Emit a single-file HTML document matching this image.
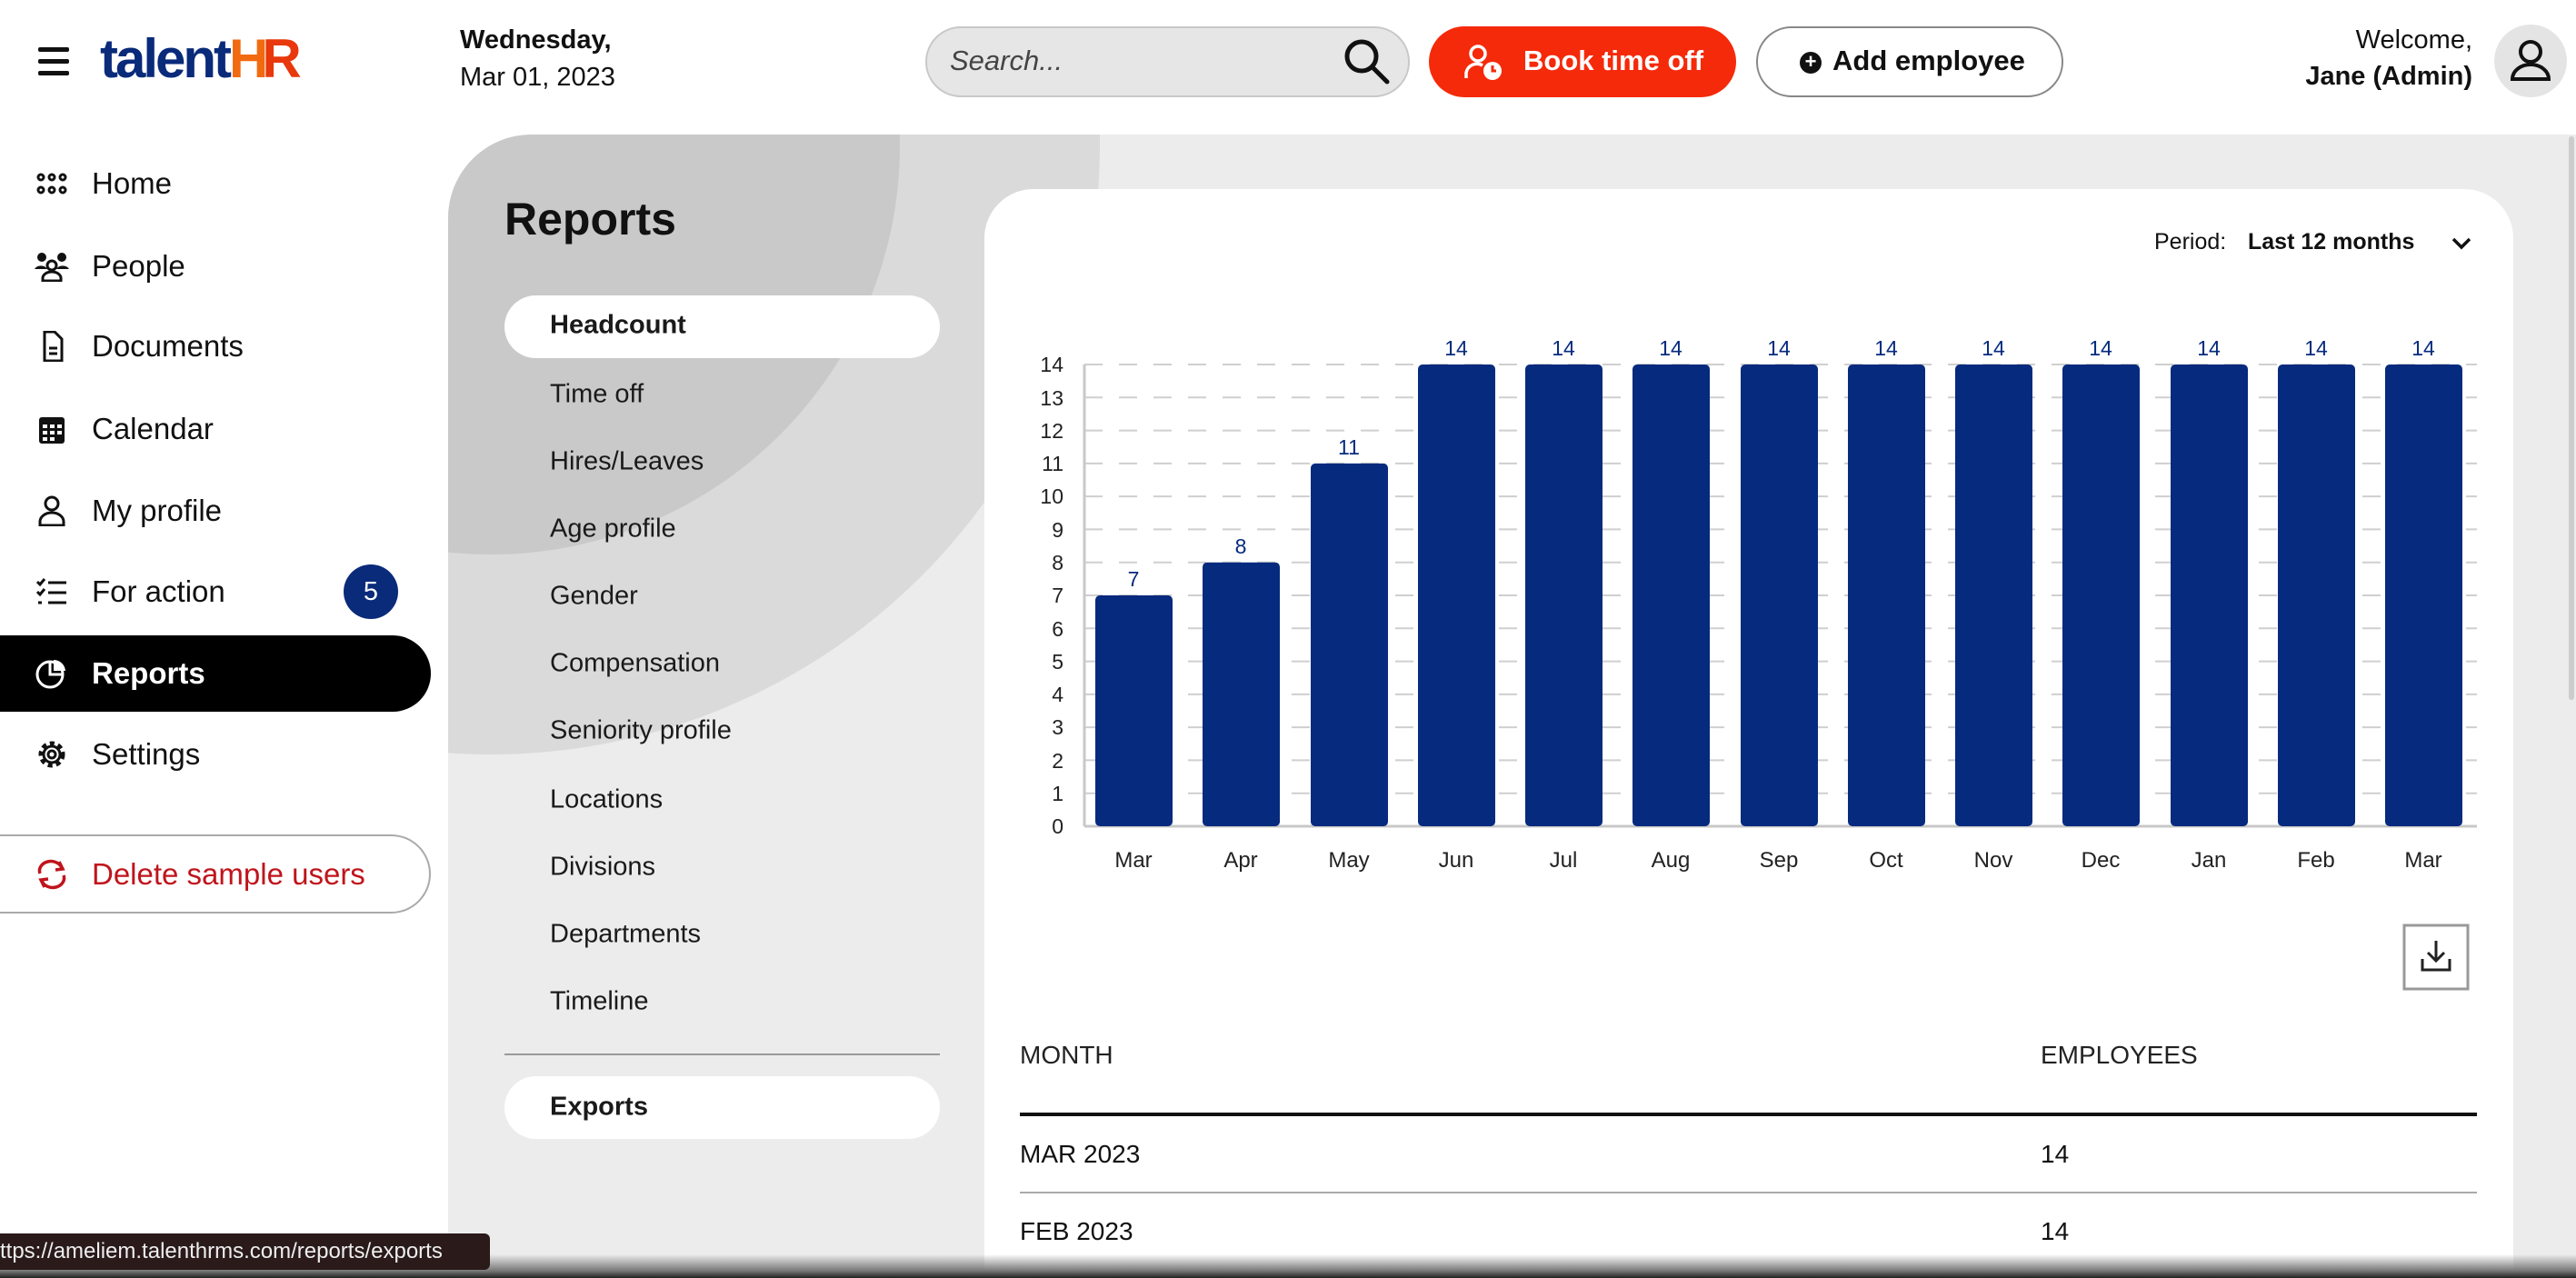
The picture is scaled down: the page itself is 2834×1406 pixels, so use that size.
<!DOCTYPE html>
<html style="overflow:hidden;height:1406px"><head><meta charset="utf-8"><style>
*{box-sizing:border-box;margin:0;padding:0}
body{width:2834px;height:1406px;overflow:hidden;background:#fff;font-family:"Liberation Sans",sans-serif;position:relative;color:#111}
.a{position:absolute}
.nav{position:absolute;left:101px;font-size:33px;color:#111;transform:translateY(-50%)}
.ic{position:absolute;left:38px;width:38px;height:34px;transform:translateY(-50%)}
.mi{position:absolute;left:605px;font-size:29px;transform:translateY(-50%);color:#1a1a1a}
</style></head><body>
<div class="a" style="left:0;top:0;width:2834px;height:1406px;overflow:hidden">
<!-- top bar -->
<div class="a" style="left:42px;top:52px;width:34px;height:5px;background:#111;border-radius:2px"></div>
<div class="a" style="left:42px;top:65px;width:34px;height:5px;background:#111;border-radius:2px"></div>
<div class="a" style="left:42px;top:78px;width:34px;height:5px;background:#111;border-radius:2px"></div>
<div class="a" style="left:110px;top:30px;font-size:60px;font-weight:bold;letter-spacing:-3px;color:#0a2a7a">talent<span style="color:#f26a10">H</span><span style="color:#e8380c;margin-left:-4px">R</span></div>
<div class="a" style="left:506px;top:28px;font-size:29px;font-weight:bold">Wednesday,</div>
<div class="a" style="left:506px;top:69px;font-size:29px">Mar 01, 2023</div>
<div class="a" style="left:1018px;top:29px;width:533px;height:78px;border-radius:39px;background:#e6e6e6;border:2px solid #c8c8c8"></div>
<div class="a" style="left:1045px;top:49px;font-size:31px;font-style:italic;color:#444">Search...</div>
<svg class="a" style="left:1476px;top:40px" width="56" height="56" viewBox="0 0 56 56"><circle cx="22" cy="22" r="16" fill="none" stroke="#111" stroke-width="5"/><line x1="34" y1="34" x2="50" y2="50" stroke="#111" stroke-width="5" stroke-linecap="round"/></svg>
<div class="a" style="left:1572px;top:29px;width:338px;height:78px;border-radius:39px;background:#f52a0a"></div>
<svg class="a" style="left:1610px;top:48px" width="46" height="42"><circle cx="16" cy="11" r="8" fill="none" stroke="#fff" stroke-width="3.5"/><path d="M3 38 v-6 a12 12 0 0 1 18 -8" fill="none" stroke="#fff" stroke-width="3.5"/><circle cx="32" cy="30" r="10" fill="#fff"/><path d="M32 24 v6 h4" stroke="#f52a0a" stroke-width="3" fill="none"/></svg>
<div class="a" style="left:1676px;top:49px;font-size:31px;font-weight:bold;color:#fff">Book time off</div>
<div class="a" style="left:1932px;top:29px;width:338px;height:78px;border-radius:39px;background:#fff;border:2px solid #888"></div>
<div class="a" style="left:1980px;top:57px;width:24px;height:24px;border-radius:50%;background:#111;color:#fff;font-size:22px;line-height:22px;text-align:center;font-weight:bold">+</div>
<div class="a" style="left:2016px;top:49px;font-size:31px;font-weight:bold">Add employee</div>
<div class="a" style="right:114px;top:28px;font-size:29px;text-align:right">Welcome,</div>
<div class="a" style="right:114px;top:68px;font-size:29px;font-weight:bold;text-align:right">Jane (Admin)</div>
<div class="a" style="left:2744px;top:27px;width:80px;height:80px;border-radius:50%;background:#e4e4e4"></div>
<svg class="a" style="left:2754px;top:37px" width="60" height="60"><circle cx="30" cy="20" r="11" fill="none" stroke="#111" stroke-width="4"/><path d="M10 50 a20 16 0 0 1 40 0 z" fill="none" stroke="#111" stroke-width="4"/></svg>

<!-- sidebar -->
<svg class="ic" style="top:202px" viewBox="0 0 38 34"><g fill="none" stroke="#111" stroke-width="3"><circle cx="7" cy="10" r="3"/><circle cx="19" cy="10" r="3"/><circle cx="31" cy="10" r="3"/><circle cx="7" cy="24" r="3"/><circle cx="19" cy="24" r="3"/><circle cx="31" cy="24" r="3"/></g></svg>
<div class="nav" style="top:202px">Home</div>
<svg class="ic" style="top:293px" viewBox="0 0 38 34"><g fill="#111"><circle cx="8" cy="7" r="5"/><circle cx="30" cy="7" r="5"/><path d="M0 20 a8 7 0 0 1 14 0z M24 20 a8 7 0 0 1 14 0z"/></g><circle cx="19" cy="16" r="5" fill="none" stroke="#111" stroke-width="3"/><path d="M9 33 v-3 a10 7 0 0 1 20 0 v3z" fill="none" stroke="#111" stroke-width="3"/></svg>
<div class="nav" style="top:293px">People</div>
<svg class="ic" style="top:381px" viewBox="0 0 38 34"><path d="M11 1 h11 l8 8 v24 h-19z" fill="none" stroke="#111" stroke-width="3"/><path d="M16 19 h9 M16 25 h9" stroke="#111" stroke-width="3"/></svg>
<div class="nav" style="top:381px">Documents</div>
<svg class="ic" style="top:472px" viewBox="0 0 38 34"><rect x="5" y="4" width="28" height="29" rx="3" fill="#111"/><g fill="#fff"><rect x="9" y="12" width="5" height="4"/><rect x="17" y="12" width="5" height="4"/><rect x="25" y="12" width="5" height="4"/><rect x="9" y="19" width="5" height="4"/><rect x="17" y="19" width="5" height="4"/><rect x="25" y="19" width="5" height="4"/><rect x="9" y="26" width="5" height="4"/><rect x="17" y="26" width="5" height="4"/></g></svg>
<div class="nav" style="top:472px">Calendar</div>
<svg class="ic" style="top:562px" viewBox="0 0 38 34"><circle cx="19" cy="9" r="7" fill="none" stroke="#111" stroke-width="3"/><path d="M6 33 v-4 a13 10 0 0 1 26 0 v4z" fill="none" stroke="#111" stroke-width="3"/></svg>
<div class="nav" style="top:562px">My profile</div>
<svg class="ic" style="top:651px" viewBox="0 0 38 34"><path d="M3 6 l3 3 l5 -6 M3 17 l3 3 l5 -6 M15 7 h20 M15 18 h20 M4 29 h4 M15 29 h20" fill="none" stroke="#111" stroke-width="3"/></svg>
<div class="nav" style="top:651px">For action</div>
<div class="a" style="left:378px;top:621px;width:60px;height:60px;border-radius:50%;background:#0a2a7a;color:#fff;font-size:29px;line-height:60px;text-align:center">5</div>
<div class="a" style="left:0;top:699px;width:474px;height:84px;border-radius:0 42px 42px 0;background:#000"></div>
<svg class="ic" style="top:741px" viewBox="0 0 38 34"><circle cx="17" cy="18" r="14" fill="none" stroke="#fff" stroke-width="3"/><path d="M17 4 v14 h14" fill="none" stroke="#fff" stroke-width="3"/><path d="M21 2 a13 13 0 0 1 13 12 h-13z" fill="#fff"/></svg>
<div class="nav" style="top:741px;color:#fff;font-weight:bold">Reports</div>
<svg class="ic" style="top:830px" viewBox="0 0 38 34"><circle cx="19" cy="17" r="12" fill="none" stroke="#111" stroke-width="5" stroke-dasharray="5 4"/><circle cx="19" cy="17" r="9" fill="none" stroke="#111" stroke-width="3"/><circle cx="19" cy="17" r="4" fill="none" stroke="#111" stroke-width="3"/></svg>
<div class="nav" style="top:830px">Settings</div>
<div class="a" style="left:-2px;top:918px;width:476px;height:87px;border-radius:0 44px 44px 0;border:2px solid #aaa;border-left:none"></div>
<svg class="ic" style="top:962px" viewBox="0 0 38 34"><path d="M6 16 a12 10 0 0 1 24 -6 M32 18 a12 10 0 0 1 -24 6" fill="none" stroke="#c0141c" stroke-width="3.5"/><path d="M27 3 l4 8 l-8 1 M11 31 l-4 -8 l8 -1" fill="none" stroke="#c0141c" stroke-width="3.5"/></svg>
<div class="nav" style="top:962px;color:#c0141c">Delete sample users</div>

<!-- gray panel -->
<div class="a" style="left:493px;top:148px;width:2341px;height:1258px;border-radius:92px 0 0 0;background:#ececec;overflow:hidden">
 <div class="a" style="left:-623px;top:-658px;width:1340px;height:1340px;border-radius:50%;background:#dadada"></div>
 <div class="a" style="left:-403px;top:-438px;width:900px;height:900px;border-radius:50%;background:#c9c9c9"></div>
</div>
<div class="a" style="left:555px;top:212px;font-size:50px;font-weight:bold">Reports</div>
<div class="a" style="left:555px;top:325px;width:479px;height:69px;border-radius:35px;background:#fff"></div>
<div class="mi" style="top:358px;font-weight:bold">Headcount</div>
<div class="mi" style="top:434px">Time off</div>
<div class="mi" style="top:508px">Hires/Leaves</div>
<div class="mi" style="top:582px">Age profile</div>
<div class="mi" style="top:656px">Gender</div>
<div class="mi" style="top:730px">Compensation</div>
<div class="mi" style="top:804px">Seniority profile</div>
<div class="mi" style="top:880px">Locations</div>
<div class="mi" style="top:954px">Divisions</div>
<div class="mi" style="top:1028px">Departments</div>
<div class="mi" style="top:1102px">Timeline</div>
<div class="a" style="left:555px;top:1159px;width:479px;height:2px;background:#999"></div>
<div class="a" style="left:555px;top:1184px;width:479px;height:69px;border-radius:35px;background:#fff"></div>
<div class="mi" style="top:1218px;font-weight:bold">Exports</div>

<!-- card -->
<div class="a" style="left:1083px;top:208px;width:1682px;height:1250px;border-radius:54px;background:#fff"></div>
<div class="a" style="left:2370px;top:252px;font-size:25px">Period:</div>
<div class="a" style="left:2473px;top:252px;font-size:25px;font-weight:bold">Last 12 months</div>
<svg class="a" style="left:2696px;top:258px" width="24" height="20"><path d="M3 5 l9 9 l9 -9" fill="none" stroke="#111" stroke-width="3.5"/></svg>

<svg class="a" style="left:0;top:0" width="2834" height="1406" font-family="Liberation Sans, sans-serif">
<g stroke="#cfcfcf" stroke-width="2" stroke-dasharray="20 18">
<line x1="1193" x2="2725" y1="401" y2="401"/><line x1="1193" x2="2725" y1="437.3" y2="437.3"/><line x1="1193" x2="2725" y1="473.6" y2="473.6"/><line x1="1193" x2="2725" y1="509.9" y2="509.9"/><line x1="1193" x2="2725" y1="546.1" y2="546.1"/><line x1="1193" x2="2725" y1="582.4" y2="582.4"/><line x1="1193" x2="2725" y1="618.7" y2="618.7"/><line x1="1193" x2="2725" y1="655" y2="655"/><line x1="1193" x2="2725" y1="691.3" y2="691.3"/><line x1="1193" x2="2725" y1="727.6" y2="727.6"/><line x1="1193" x2="2725" y1="763.9" y2="763.9"/><line x1="1193" x2="2725" y1="800.1" y2="800.1"/><line x1="1193" x2="2725" y1="836.4" y2="836.4"/><line x1="1193" x2="2725" y1="872.7" y2="872.7"/>
</g>
<line x1="1193" x2="1193" y1="401" y2="909" stroke="#c8c8c8" stroke-width="3"/>
<line x1="1193" x2="2725" y1="909" y2="909" stroke="#c8c8c8" stroke-width="3"/>
<g font-size="23" fill="#222" text-anchor="end">
<text x="1170" y="917">0</text><text x="1170" y="881">1</text><text x="1170" y="845">2</text><text x="1170" y="808">3</text><text x="1170" y="772">4</text><text x="1170" y="736">5</text><text x="1170" y="700">6</text><text x="1170" y="663">7</text><text x="1170" y="627">8</text><text x="1170" y="591">9</text><text x="1170" y="554">10</text><text x="1170" y="518">11</text><text x="1170" y="482">12</text><text x="1170" y="446">13</text><text x="1170" y="409">14</text>
</g>
<g fill="#062a7e">
<rect x="1205" y="655" width="85" height="254" rx="5"/>
<rect x="1323" y="618.7" width="85" height="290.3" rx="5"/>
<rect x="1442" y="509.9" width="85" height="399.1" rx="5"/>
<rect x="1560" y="401" width="85" height="508" rx="5"/>
<rect x="1678" y="401" width="85" height="508" rx="5"/>
<rect x="1796" y="401" width="85" height="508" rx="5"/>
<rect x="1915" y="401" width="85" height="508" rx="5"/>
<rect x="2033" y="401" width="85" height="508" rx="5"/>
<rect x="2151" y="401" width="85" height="508" rx="5"/>
<rect x="2269" y="401" width="85" height="508" rx="5"/>
<rect x="2388" y="401" width="85" height="508" rx="5"/>
<rect x="2506" y="401" width="85" height="508" rx="5"/>
<rect x="2624" y="401" width="85" height="508" rx="5"/>
</g>
<g font-size="23" fill="#062a7e" text-anchor="middle">
<text x="1247" y="645">7</text><text x="1365" y="609">8</text><text x="1484" y="500">11</text>
<text x="1602" y="391">14</text><text x="1720" y="391">14</text><text x="1838" y="391">14</text><text x="1957" y="391">14</text><text x="2075" y="391">14</text><text x="2193" y="391">14</text><text x="2311" y="391">14</text><text x="2430" y="391">14</text><text x="2548" y="391">14</text><text x="2666" y="391">14</text>
</g>
<g font-size="24" fill="#222" text-anchor="middle">
<text x="1247" y="954">Mar</text><text x="1365" y="954">Apr</text><text x="1484" y="954">May</text><text x="1602" y="954">Jun</text><text x="1720" y="954">Jul</text><text x="1838" y="954">Aug</text><text x="1957" y="954">Sep</text><text x="2075" y="954">Oct</text><text x="2193" y="954">Nov</text><text x="2311" y="954">Dec</text><text x="2430" y="954">Jan</text><text x="2548" y="954">Feb</text><text x="2666" y="954">Mar</text>
</g>
<rect x="2645" y="1018" width="70" height="70" fill="#fff" stroke="#999" stroke-width="3"/>
<path d="M2680 1035 v22 M2671 1048 l9 9 l9 -9 M2665 1055 v12 h30 v-12" fill="none" stroke="#222" stroke-width="3"/>
</svg>

<div class="a" style="left:1122px;top:1145px;font-size:28px;color:#222">MONTH</div>
<div class="a" style="left:2245px;top:1145px;font-size:28px;color:#222">EMPLOYEES</div>
<div class="a" style="left:1122px;top:1224px;width:1603px;height:4px;background:#111"></div>
<div class="a" style="left:1122px;top:1254px;font-size:28px">MAR 2023</div>
<div class="a" style="left:2245px;top:1254px;font-size:28px">14</div>
<div class="a" style="left:1122px;top:1311px;width:1603px;height:2px;background:#aaa"></div>
<div class="a" style="left:1122px;top:1339px;font-size:28px">FEB 2023</div>
<div class="a" style="left:2245px;top:1339px;font-size:28px">14</div>
<div class="a" style="left:0;top:1380px;width:2834px;height:26px;background:linear-gradient(rgba(255,255,255,0),#777 70%,#222)"></div>
<div class="a" style="left:0;top:1357px;width:539px;height:40px;background:#2a1a1a;border-radius:0 6px 6px 0;color:#eee;font-size:24px;line-height:40px;white-space:nowrap;overflow:hidden">ttps://ameliem.talenthrms.com/reports/exports</div>
<div class="a" style="left:2826px;top:150px;width:6px;height:620px;background:#ccc;border-radius:3px"></div>
</div>
</body></html>
